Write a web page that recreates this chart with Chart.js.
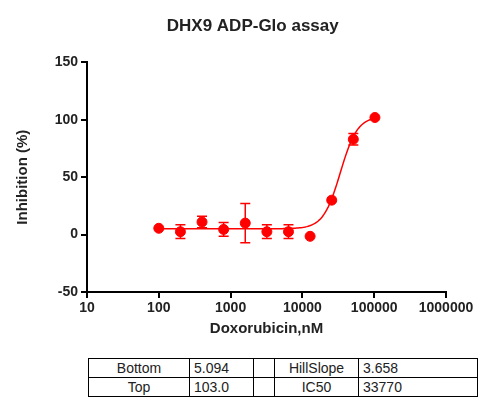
<!DOCTYPE html>
<html>
<head>
<meta charset="utf-8">
<script src="https://cdn.jsdelivr.net/npm/chart.js@4"></script>
<style>
  body { margin: 0; background: #fff; font-family: Arial, "Liberation Sans", sans-serif; }
  #wrap { position: relative; width: 500px; height: 350px; }
  table { position: absolute; left: 88px; top: 358px; width: 390px; border-collapse: collapse; font-size: 14px; }
  td { border: 1px solid #000; padding: 0 4px; height: 18px; line-height: 18px; color: #222; }
</style>
</head>
<body>
<div id="wrap"><canvas id="c" width="500" height="350"></canvas></div>
<table>
  <tr><td style="width:92px;text-align:center">Bottom</td><td style="width:55px">5.094</td><td style="width:12px"></td><td style="width:75px;text-align:center">HillSlope</td><td>3.658</td></tr>
  <tr><td style="text-align:center">Top</td><td>103.0</td><td></td><td style="text-align:center">IC50</td><td>33770</td></tr>
</table>
<script>
const doses = [100, 200, 400, 800, 1600, 3200, 6400, 12800, 25600, 51200, 102400];
const inhibition = [5.5, 2.5, 11, 4.5, 10, 2.5, 2.5, -1.5, 30, 83, 102];
const errors = [0, 6, 5, 6, 17, 6, 6, 0, 0, 5, 0];
const xTicks = [10, 100, 1000, 10000, 100000, 1000000];
const yTicks = [-50, 0, 50, 100, 150];
// fitted 4PL parameters (from the table)
const fitBottom = 5.094, fitTop = 103.0, fitHill = 3.658, fitIC50 = 33770;

const curve = [];
for (let e = 2; e <= 5.0001; e += 0.02) {
  const x = Math.pow(10, e);
  curve.push({x: x, y: fitBottom + (fitTop - fitBottom) / (1 + Math.pow(fitIC50 / x, fitHill))});
}

const errorBars = {
  id: 'errorBars',
  afterDatasetsDraw(chart) {
    const {ctx, scales: {x, y}} = chart;
    ctx.save();
    ctx.strokeStyle = '#f00';
    ctx.lineWidth = 1.5;
    doses.forEach((d, i) => {
      if (!errors[i]) return;
      const px = x.getPixelForValue(d);
      const top = y.getPixelForValue(inhibition[i] + errors[i]);
      const bot = y.getPixelForValue(inhibition[i] - errors[i]);
      ctx.beginPath();
      ctx.moveTo(px, top); ctx.lineTo(px, bot);
      ctx.moveTo(px - 5, top); ctx.lineTo(px + 5, top);
      ctx.moveTo(px - 5, bot); ctx.lineTo(px + 5, bot);
      ctx.stroke();
    });
    ctx.restore();
  }
};

const fam = 'Arial, "Liberation Sans"';
const tickFont = {family: fam, size: 14, weight: 'bold'};

new Chart(document.getElementById('c'), {
  type: 'scatter',
  data: {
    datasets: [
      {
        data: doses.map((d, i) => ({x: d, y: inhibition[i]})),
        backgroundColor: '#f00', borderColor: '#f00',
        pointRadius: 5, pointHoverRadius: 5
      },
      {
        type: 'line', data: curve, borderColor: '#f00', borderWidth: 1.5,
        pointRadius: 0, fill: false, tension: 0
      }
    ]
  },
  options: {
    responsive: false,
    animation: false,
    layout: {padding: {left: 0, right: 54, top: 0, bottom: 8}},
    plugins: {
      legend: {display: false},
      tooltip: {enabled: false},
      title: {
        display: true, text: '\u2002\u2002\u2002\u2002\u2002\u2002\u2002DHX9 ADP-Glo assay', color: '#222',
        font: {family: fam, size: 17, weight: 'bold'},
        padding: {top: 16, bottom: 26}
      }
    },
    scales: {
      x: {
        type: 'logarithmic', min: 10, max: 1000000,
        afterBuildTicks: s => { s.ticks = xTicks.map(v => ({value: v})); },
        afterFit: s => { s.height = 50; },
        ticks: {color: '#222', font: tickFont, padding: 2, maxRotation: 0, callback: v => String(v)},
        grid: {drawOnChartArea: false, drawTicks: true, tickLength: 6, color: '#000', lineWidth: 2},
        border: {color: '#000', width: 2},
        title: {display: true, text: 'Doxorubicin,nM', color: '#222', font: {family: fam, size: 15, weight: 'bold'}, padding: {top: 2}}
      },
      y: {
        min: -50, max: 150,
        afterBuildTicks: s => { s.ticks = yTicks.map(v => ({value: v})); },
        afterFit: s => { s.width = 87; },
        ticks: {color: '#222', font: tickFont, padding: 3},
        grid: {drawOnChartArea: false, drawTicks: true, tickLength: 6, color: '#000', lineWidth: 2},
        border: {color: '#000', width: 2},
        title: {display: true, text: 'Inhibition (%)', color: '#222', font: {family: fam, size: 15, weight: 'bold'}, padding: {top: 14}}
      }
    }
  },
  plugins: [errorBars]
});
</script>
</body>
</html>
